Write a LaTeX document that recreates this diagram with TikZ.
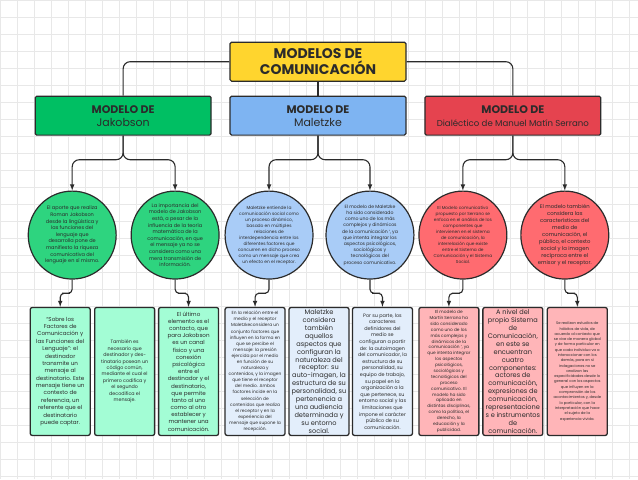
\documentclass[tikz,border=0pt]{standalone}
\usepackage{fontspec}
\setmainfont{Poppins}
\usetikzlibrary{calc}
\definecolor{ylw}{HTML}{FFD52E}
\definecolor{gA}{HTML}{00BF63}
\definecolor{gB}{HTML}{2ED47F}
\definecolor{gC}{HTML}{A3FDD5}
\definecolor{bA}{HTML}{7EB4F2}
\definecolor{bB}{HTML}{A9CCF7}
\definecolor{bC}{HTML}{E3EEFB}
\definecolor{rA}{HTML}{E5434F}
\definecolor{rB}{HTML}{FF6B70}
\definecolor{rC}{HTML}{FFB5B8}
\definecolor{ink}{HTML}{2B2B2B}
\tikzset{
 hdr/.style={draw=ink,line width=1.2pt,rounded corners=1.5pt,minimum width=176pt,minimum height=39pt,align=center,text=ink,inner sep=1pt},
 circ/.style={circle,draw=ink,line width=1.2pt,minimum size=88pt,inner sep=0pt,align=center,text=ink},
 bx/.style={draw=ink,line width=1.3pt,rounded corners=2pt,minimum width=60pt,minimum height=128pt,align=center,text=ink,inner sep=0pt},
 conn/.style={draw=ink,line width=1.1pt,rounded corners=7pt},
 arr/.style={conn,-latex},
}
\begin{document}
\begin{tikzpicture}[x=1pt,y=-1pt]
\fill[white] (0,0) rectangle (638,479);
\draw[black!9,line width=0.5pt,step=17pt] (0,0) grid (638,479);
\useasboundingbox (0,0) rectangle (638,479);

\node[hdr,fill=ylw,font=\fontsize{14}{16}\selectfont\bfseries] (title) at (318,61.5) {MODELOS DE\\COMUNICACIÓN};
\node[hdr,fill=gA,font=\fontsize{11}{13}\selectfont] (m1) at (123,115.5) {\textbf{MODELO DE}\\Jakobson};
\node[hdr,fill=bA,font=\fontsize{11}{13}\selectfont] (m2) at (318,115.5) {\textbf{MODELO DE}\\Maletzke};
\node[hdr,fill=rA,font=\fontsize{11}{13}\selectfont] (m3) at (513,115.5) {\textbf{MODELO DE}\\{\fontsize{8.6}{10}\selectfont Dialéctico de Manuel Matín Serrano}};

\draw[conn] (title.west) -| (m1.north);
\draw[conn] (title.east) -| (m3.north);
\draw[conn] (title.south) -- (m2.north);

\tikzset{ct/.style={font=\fontsize{5}{6.6}\selectfont}}
\node[circ,fill=gB,ct] (c1) at (72,235) {El aporte que realiza\\Roman Jakobson\\desde la lingüística y\\las funciones del\\lenguaje que\\desarrolla pone de\\manifiesto la riqueza\\comunicativa del\\lenguaje en sí mismo.};
\node[circ,fill=gB,ct] (c2) at (175,235) {La importancia del\\modelo de Jakobson\\está, a pesar de la\\influencia de la teoría\\matemática de la\\comunicación, en que\\el mensaje ya no se\\considera como una\\mera transmisión de\\información.};
\node[circ,fill=bB,font=\fontsize{4.4}{6}\selectfont] (c3) at (269,235) {Maletzke entiende la\\comunicación social como\\un proceso dinámico,\\basado en múltiples\\relaciones de\\interdependencia entre los\\diferentes factores que\\concurren en dicho proceso\\como un mensaje que crea\\un efecto en el receptor.};
\node[circ,fill=bB,font=\fontsize{4.6}{6.2}\selectfont] (c4) at (370,235) {El modelo de Maletzke\\ha sido considerado\\como uno de los más\\complejos y dinámicos\\de la comunicación ‘, ya\\que intenta integrar los\\aspectos psicológicos,\\sociológicos y\\tecnológicos del\\proceso comunicativo.};
\node[circ,fill=rB,font=\fontsize{4.3}{6}\selectfont] (c5) at (463,235) {El Modelo comunicativo\\propuesto por Serrano se\\enfoca en el análisis de los\\componentes que\\intervienen en el sistema\\de comunicación, la\\interrelación que existe\\entre el Sistema de\\Comunicación y el Sistema\\Social.};
\node[circ,fill=rB,font=\fontsize{5.3}{7}\selectfont] (c6) at (565,235) {El modelo también\\considera las\\características del\\medio de\\comunicación, el\\público, el contexto\\social y la imagen\\recíproca entre el\\emisor y el receptor.};

\foreach \m/\a/\b/\k in {m1/c1/c2/1,m2/c3/c4/2,m3/c5/c6/3}{
  \coordinate (j\k) at ($(\m.south)+(0,24)$);
  \draw[arr] (\m.south) -- (j\k) -| (\a.north);
  \draw[arr] (\m.south) -- (j\k) -| (\b.north);
}

\node[bx,fill=gC,font=\fontsize{5.6}{7.4}\selectfont] (b1) at (60,371.5) {“Sobre los\\Factores de\\Comunicación y\\las Funciones del\\Lenguaje”: el\\destinador\\transmite un\\mensaje al\\destinatario. Este\\mensaje tiene un\\contexto de\\referencia, un\\referente que el\\destinatario\\puede captar.};
\node[bx,fill=gC,font=\fontsize{4.8}{6.4}\selectfont] (b2) at (124.5,371.5) {También es\\necesario que\\destinador y des-\\tinatario posean un\\código común,\\mediante el cual el\\primero codifica y\\el segundo\\decodifica el\\mensaje.};
\node[bx,fill=gC,font=\fontsize{5.6}{7.2}\selectfont] (b3) at (188.5,371.5) {El último\\elemento es el\\contacto, que\\para Jakobson\\es un canal\\físico y una\\conexión\\psicológica\\entre el\\destinador y el\\destinatario,\\que permite\\tanto al uno\\como al otro\\establecer y\\mantener una\\comunicación.};
\node[bx,fill=bC,font=\fontsize{4.4}{6.1}\selectfont] (b4) at (255,371.5) {En la relación entre el\\medio y el receptor\\Maletzkeconsidera un\\conjunto factores que\\influyen en la forma en\\que se percibe el\\mensaje: la presión\\ejercida por el medio\\en función de su\\naturaleza y\\contenidos, y la imagen\\que tiene el receptor\\del medio. Ambos\\factores incide en la\\selección de\\contenidos que realiza\\el receptor y en la\\experiencia del\\mensaje que supone la\\recepción.};
\node[bx,fill=bC,font=\fontsize{6.6}{7.9}\selectfont] (b5) at (319,371.5) {Maletzke\\considera\\también\\aquellos\\aspectos que\\configuran la\\naturaleza del\\receptor: su\\auto-imagen, la\\estructura de su\\personalidad, su\\pertenencia a\\una audiencia\\determinada y\\su entorno\\social.};
\node[bx,fill=bC,font=\fontsize{4.9}{6.6}\selectfont] (b6) at (382.5,371.5) {Por su parte, los\\caracteres\\definidores del\\medio se\\configuran a partir\\de: la autoimagen\\del comunicador, la\\estructura de su\\personalidad, su\\equipo de trabajo,\\su papel en la\\organización a la\\que pertenece, su\\entorno social y las\\limitaciones que\\impone el carácter\\público de su\\comunicación.};
\node[bx,fill=rC,font=\fontsize{4.3}{5.9}\selectfont] (b7) at (449,371.5) {El modelo de\\Martín Serrano ha\\sido considerado\\como uno de los\\más complejos y\\dinámicos de la\\comunicación ‘, ya\\que intenta integrar\\los aspectos\\psicológicos,\\sociológicos y\\tecnológicos del\\proceso\\comunicativo. El\\modelo ha sido\\aplicado en\\distintas disciplinas,\\como la política, el\\derecho, la\\educación y la\\publicidad.};
\node[bx,fill=rC,font=\fontsize{6.6}{7.9}\selectfont] (b8) at (513,371.5) {A nivel del\\propio Sistema\\de\\Comunicación,\\en este se\\encuentran\\cuatro\\componentes:\\actores de\\comunicación,\\expresiones de\\comunicación,\\representacione\\s e instrumentos\\de\\comunicación.};
\node[bx,fill=rC,font=\fontsize{3.7}{5.3}\selectfont] (b9) at (577.5,371.5) {Se realizan estudios de\\hábitos de vida, de\\acuerdo al contexto que\\se vive de manera global\\y de forma particular en\\que cada individuo va a\\interaccionar con los\\demás, para en sí\\indagaciones no se\\analizan las\\especificidades desde lo\\general con los aspectos\\que influyen en la\\comprensión de los\\acontecimientos y, desde\\lo particular, con la\\interpretación que hace\\el sujeto de la\\experiencia vivida.};

\foreach \a/\b in {c1/b1,c2/b3,c3/b4,c4/b6,c5/b7,c6/b9}{
  \draw[arr,rounded corners=4pt] (\a.south) |- ($(\a.south)!0.5!(\b.north)$) -| (\b.north);
}
\end{tikzpicture}
\end{document}
